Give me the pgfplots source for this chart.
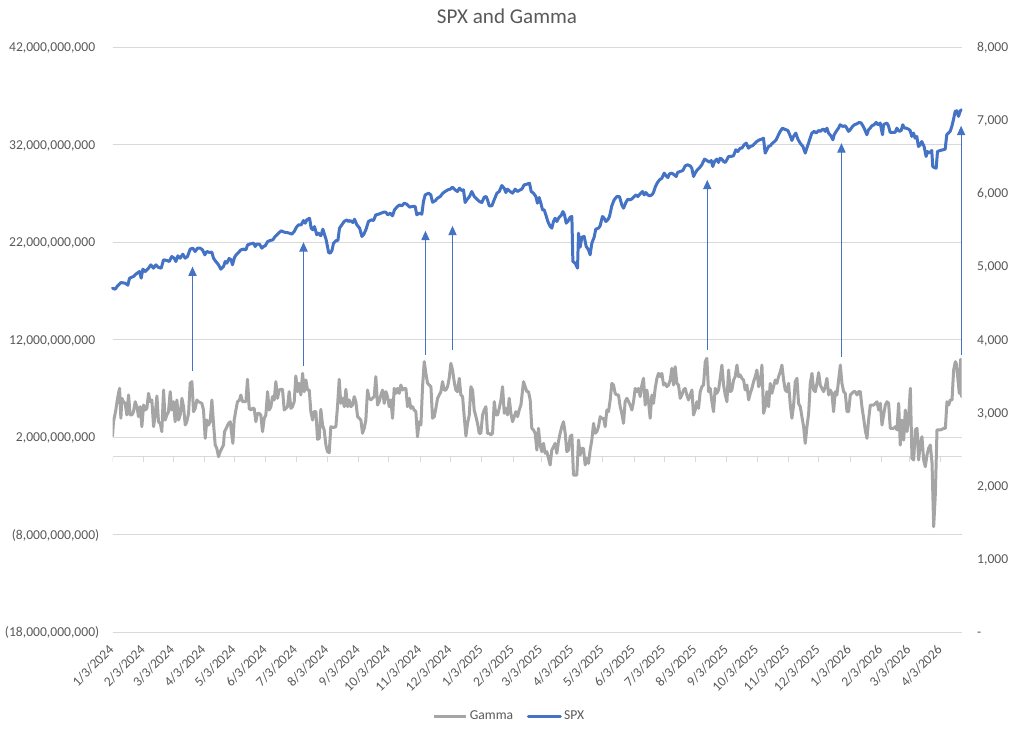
\documentclass[border=0pt]{standalone}
\usepackage{fontspec}
\setmainfont{Carlito}
\usepackage{pgfplots}
\pgfplotsset{compat=1.18}
\usepackage{pgfplotstable}
\usetikzlibrary{arrows.meta}
\definecolor{spxblue}{HTML}{4472C4}
\definecolor{gamgray}{HTML}{A5A5A5}
\definecolor{gridc}{HTML}{D9D9D9}
\definecolor{txt}{HTML}{595959}

% SPX (right axis); day = days since 1/3/2024
\pgfplotstableread{
day spx
0 4706
2.7 4692
5.0 4738
8.3 4783
12.6 4774
15.2 4747
16.9 4843
20.8 4866
23.5 4902
26.8 4934
28.4 4843
30.1 4966
32.4 4934
35.7 4980
38.0 5025
40.6 4980
43.0 5025
45.6 4989
48.3 4980
50.6 5094
53.9 5085
56.2 5071
58.8 5139
61.1 5116
62.8 5071
64.8 5148
67.1 5116
69.7 5171
72.0 5116
74.3 5139
77.0 5240
79.6 5253
81.9 5208
84.3 5253
86.9 5253
89.2 5230
91.5 5162
93.5 5208
96.2 5194
98.5 5199
100.1 5116
102.4 5071
105.1 5025
107.4 4966
110.0 5002
111.7 5071
113.3 5048
115.6 5112
117.6 5094
118.9 5025
120.9 5126
122.6 5162
124.9 5194
127.2 5230
129.9 5240
132.2 5230
133.9 5299
137.1 5313
139.8 5322
141.4 5276
143.1 5308
145.7 5308
148.0 5253
149.7 5276
151.3 5285
153.9 5345
156.2 5358
158.9 5367
161.2 5413
164.5 5458
167.2 5490
170.2 5472
172.8 5467
175.4 5458
177.8 5445
180.1 5481
182.1 5536
184.4 5572
187.0 5572
189.3 5631
191.0 5595
192.6 5640
195.3 5663
196.9 5527
198.6 5504
200.2 5549
202.5 5436
204.2 5458
206.5 5422
208.5 5513
210.2 5436
211.8 5367
214.2 5194
215.8 5185
217.5 5221
219.1 5322
221.7 5358
223.4 5358
225.0 5527
227.3 5572
229.6 5618
232.3 5640
233.9 5618
235.6 5631
238.2 5604
239.9 5649
242.2 5572
244.9 5527
247.2 5413
248.8 5436
251.1 5504
253.7 5618
256.4 5640
258.7 5631
261.0 5709
263.7 5718
266.3 5732
268.6 5745
270.9 5745
272.9 5709
275.2 5732
277.5 5695
279.5 5777
281.8 5814
284.5 5845
286.8 5832
289.1 5868
291.7 5855
294.4 5814
296.7 5823
300.0 5823
301.6 5709
304.0 5732
306.6 5718
308.2 5891
309.9 5982
313.2 6005
315.5 5982
317.2 5882
319.8 5900
322.1 5937
324.8 5959
327.4 6005
329.7 6028
332.4 6051
334.7 6060
337.0 6087
339.6 6051
341.9 6028
343.9 6073
346.2 6041
347.9 6051
349.5 5877
351.2 5914
353.8 5959
356.1 6028
358.5 5959
361.1 5923
363.8 5891
366.1 5877
368.4 5950
370.4 5959
371.7 5914
373.4 5832
376.0 5832
378.3 5914
381.0 6005
383.3 6028
385.9 6110
388.2 6073
389.9 6014
391.5 6060
394.2 6028
396.5 6005
399.1 6060
401.4 6028
404.1 6051
405.7 6060
408.0 6119
410.7 6128
413.3 6142
415.0 6028
417.3 6005
419.6 5959
421.2 5868
422.9 5946
424.6 5868
426.2 5777
427.9 5777
429.5 5709
431.5 5618
433.8 5549
435.4 5527
437.1 5618
438.7 5663
440.4 5618
442.7 5677
444.7 5700
446.4 5754
448.0 5709
449.7 5595
451.3 5618
453.6 5677
455.3 5686
456.3 5071
458.6 5048
460.9 4980
461.9 5458
463.5 5267
465.2 5404
467.5 5413
469.5 5276
471.8 5230
473.4 5162
475.1 5322
477.4 5404
479.0 5513
481.7 5527
483.3 5558
485.6 5686
487.3 5663
489.0 5618
490.9 5640
492.6 5686
494.9 5832
497.2 5914
499.9 5959
502.5 5959
504.8 5845
506.5 5800
508.8 5877
510.8 5923
513.1 5914
514.7 5927
517.0 5959
519.0 5982
520.7 5959
523.0 5996
525.3 6028
527.0 5982
528.6 6014
530.6 5982
532.3 5968
534.6 5982
536.2 6014
537.9 6087
540.2 6151
542.2 6187
544.5 6210
546.8 6279
548.8 6242
550.5 6219
552.1 6270
554.4 6279
556.7 6256
558.7 6233
560.0 6288
562.7 6302
565.3 6316
567.6 6379
569.9 6393
572.6 6379
574.2 6347
575.9 6233
577.5 6279
579.2 6316
581.5 6347
584.1 6393
586.8 6471
589.1 6452
591.7 6429
593.4 6452
595.0 6370
596.7 6439
599.0 6471
600.6 6425
602.3 6484
603.9 6471
605.6 6439
607.3 6425
608.9 6461
610.6 6507
612.9 6507
615.5 6516
617.8 6598
619.8 6575
622.1 6621
623.8 6621
626.1 6667
628.1 6690
630.4 6621
632.0 6644
634.3 6653
636.3 6680
638.6 6712
641.3 6735
643.6 6744
645.2 6758
646.9 6553
648.6 6598
650.2 6644
651.9 6653
654.2 6690
656.2 6712
657.8 6735
660.1 6804
661.8 6850
664.1 6895
665.8 6881
667.7 6872
669.4 6863
671.7 6790
673.4 6726
675.0 6781
677.3 6827
679.3 6744
681.6 6690
684.3 6644
686.6 6553
688.2 6621
689.9 6690
691.5 6758
693.2 6827
695.5 6850
697.5 6827
699.8 6863
701.5 6850
703.1 6872
704.8 6881
706.4 6850
708.1 6895
709.7 6827
712.0 6790
714.0 6735
715.3 6804
717.3 6850
719.6 6895
721.2 6941
723.9 6918
726.2 6927
727.8 6895
729.5 6850
731.1 6872
733.5 6918
735.4 6941
737.8 6954
740.1 6973
742.1 6964
743.7 6927
745.4 6881
747.7 6804
749.3 6872
751.0 6895
752.6 6927
754.9 6941
756.9 6973
758.6 6941
760.9 6964
763.2 6804
764.2 6941
765.8 6954
767.5 6964
769.1 6927
770.8 6836
773.4 6836
775.7 6836
777.4 6895
779.7 6850
781.7 6863
783.3 6941
785.0 6895
786.6 6895
788.9 6881
790.6 6863
792.2 6781
793.9 6827
795.5 6758
797.2 6781
798.8 6644
800.5 6667
802.1 6712
804.4 6644
806.4 6507
807.8 6575
809.7 6553
812.0 6589
813.0 6370
814.4 6357
816.4 6347
817.7 6575
820.3 6589
823.0 6598
825.3 6607
826.9 6804
828.6 6827
830.2 6850
831.9 6918
833.5 7009
835.2 7123
836.8 7132
838.5 7055
840.1 7123
841.1 7146
}\spxtable

% Gamma (left axis), in billions
\pgfplotstableread{
day gamma
0 2.13
1.0 3.60
3.3 4.80
5.0 6.00
7.0 7.02
8.3 3.95
9.3 6.00
10.9 5.65
12.6 5.48
14.2 4.29
15.9 6.34
17.5 4.29
19.2 4.29
20.8 4.63
22.5 5.65
24.2 5.14
25.8 4.12
27.5 5.14
29.1 3.09
30.8 5.31
32.4 4.80
34.1 4.97
35.7 6.51
37.4 5.65
39.0 5.83
40.7 3.09
42.3 4.29
44.0 6.24
45.6 3.60
47.3 3.43
48.9 2.58
50.6 6.85
52.2 3.77
53.9 4.29
55.5 4.63
57.2 6.68
58.8 4.80
60.5 5.65
62.1 3.60
63.8 5.83
65.5 3.77
67.1 4.29
68.8 6.00
70.4 5.14
72.1 3.26
73.7 3.60
75.4 4.46
77.0 7.53
78.7 7.71
80.3 4.63
82.0 4.97
83.6 5.83
85.3 5.65
88.6 5.48
90.2 4.80
91.9 1.89
93.5 3.77
95.2 3.26
96.8 3.60
98.5 5.83
100.1 3.43
101.8 1.21
103.4 0.87
105.1 0.01
106.7 0.53
108.4 0.87
110.0 1.21
111.0 2.58
112.7 2.92
115.0 3.43
116.7 3.60
119.3 1.38
120.6 3.77
122.3 4.80
123.9 5.65
125.9 5.83
127.2 6.34
128.9 5.65
130.5 5.65
132.2 5.65
133.8 7.95
135.5 4.97
137.1 4.80
138.8 4.97
140.4 4.97
142.1 3.60
143.7 4.46
145.4 4.46
147.0 4.29
148.7 2.58
150.4 3.95
152.0 4.29
153.7 6.68
155.3 4.80
157.0 5.14
158.6 6.17
160.3 5.83
161.9 7.71
163.6 6.00
165.2 6.85
166.9 6.92
168.5 6.92
170.2 4.80
171.8 4.97
173.5 5.14
175.1 6.68
176.8 4.97
178.4 5.14
180.1 5.65
181.7 8.29
183.4 6.68
185.0 7.53
186.7 6.34
188.4 8.56
190.0 6.68
191.7 7.88
193.3 6.85
195.0 6.85
196.6 4.63
198.3 3.77
199.9 4.63
201.6 4.63
203.2 1.79
204.9 1.89
206.5 4.87
208.2 3.26
209.8 2.75
211.5 1.21
213.1 0.53
214.8 0.42
216.4 3.09
218.1 3.02
219.7 3.02
221.4 3.09
223.0 5.14
224.7 7.95
226.3 5.48
228.0 6.00
229.7 5.14
231.3 6.92
233.0 5.14
234.6 5.83
236.3 5.14
237.9 5.31
239.6 6.17
241.2 5.65
242.9 4.12
244.5 3.95
246.2 3.77
247.8 2.41
249.5 2.92
251.1 3.77
252.8 6.85
254.4 6.00
256.1 5.83
257.7 6.00
259.4 6.17
261.0 8.22
262.7 5.31
264.3 5.65
266.0 6.34
267.7 6.85
269.3 5.48
271.0 6.68
272.6 6.17
274.3 5.14
275.9 5.83
277.6 3.95
279.2 7.02
280.9 6.51
282.5 7.02
284.2 6.51
285.8 7.36
287.5 6.85
289.1 7.02
290.8 7.02
292.4 5.14
294.1 6.00
295.7 4.97
297.4 5.14
299.0 4.80
300.7 4.63
302.3 2.06
304.0 3.60
305.7 3.26
307.3 7.19
309.0 9.76
310.6 8.56
312.3 7.53
313.9 7.36
315.6 7.19
317.2 3.95
318.9 4.12
320.5 4.97
322.2 6.00
323.8 6.34
325.5 6.68
327.1 7.71
328.8 6.85
330.4 6.85
332.1 7.19
333.7 8.05
335.4 9.59
337.0 8.90
338.7 7.71
340.3 6.85
342.0 6.68
343.7 8.05
345.3 6.34
347.0 6.17
348.6 4.12
350.3 2.13
351.9 3.43
353.6 4.29
355.2 7.19
356.9 6.85
358.5 4.80
360.2 4.12
361.8 3.43
363.5 2.41
365.1 2.41
366.8 4.29
368.4 4.80
370.1 5.14
371.7 2.41
373.4 2.41
375.0 2.24
376.7 2.41
378.4 5.65
380.0 4.29
381.7 4.29
383.3 4.97
385.0 5.83
386.6 7.19
388.3 4.46
389.9 4.97
391.6 4.29
393.2 6.00
394.9 4.46
396.5 3.60
398.2 4.12
399.8 4.63
401.5 4.12
403.1 4.80
404.8 5.31
407.4 7.71
410.7 6.68
412.3 6.68
414.0 5.83
415.6 2.92
417.3 2.75
418.9 2.41
420.6 0.69
422.2 2.92
423.9 1.21
425.5 0.53
427.2 1.38
428.8 0.36
430.5 0.53
432.1 -0.16
433.8 -0.84
435.4 0.69
437.1 1.04
438.7 1.38
440.4 0.36
442.0 1.55
443.7 2.41
445.3 3.09
447.0 3.60
448.7 2.41
450.3 0.53
452.0 0.69
453.6 2.06
455.3 2.24
456.9 -1.87
458.6 -1.87
460.2 -1.87
461.9 1.72
463.5 0.18
465.2 0.87
466.8 0.87
468.5 -0.84
470.1 -0.16
471.8 -0.67
473.4 0.69
475.1 1.72
476.8 3.43
478.4 2.41
480.1 2.58
481.7 3.09
483.4 4.12
485.0 3.95
486.7 3.95
488.3 3.09
490.0 4.80
491.6 4.63
493.3 5.83
494.9 7.53
496.6 7.36
498.2 6.51
499.9 6.34
501.5 6.34
503.2 5.14
504.8 4.46
506.5 3.43
508.1 5.65
509.8 6.00
511.5 5.65
513.1 5.31
514.8 4.80
516.4 5.65
518.1 7.02
519.7 6.68
521.4 7.02
523.0 6.17
524.7 7.36
526.3 8.05
528.0 5.31
529.6 6.85
531.3 5.65
532.9 3.95
534.6 6.34
536.2 5.48
537.9 7.02
539.6 8.05
541.2 8.56
542.9 8.22
544.5 8.56
546.2 7.36
547.8 7.53
549.5 7.19
551.1 7.36
552.8 7.88
554.4 9.07
556.1 7.36
557.7 9.24
559.4 7.53
561.0 7.36
562.7 6.00
564.3 6.34
566.0 6.85
567.6 7.02
569.3 6.34
570.9 5.83
572.6 6.34
574.3 6.85
575.9 4.29
577.6 4.80
579.2 5.65
580.9 4.97
582.5 6.68
584.2 7.19
585.8 7.36
587.5 9.76
589.1 10.10
590.8 6.68
592.4 7.02
594.1 5.65
595.7 4.63
597.4 7.02
599.0 6.51
600.7 6.85
602.3 8.05
604.0 9.41
605.7 7.36
607.3 6.34
609.0 5.65
610.6 8.90
612.3 6.68
613.9 6.85
615.6 7.88
617.2 8.22
618.9 9.41
620.5 8.22
622.2 8.39
623.8 8.05
625.5 7.88
627.1 6.85
628.8 7.36
630.5 5.83
632.1 6.51
633.8 7.02
635.4 7.71
637.1 8.22
638.7 8.90
640.4 7.19
642.0 7.53
643.7 9.41
645.3 4.46
647.0 5.14
648.6 6.68
650.3 5.14
651.9 7.53
653.6 6.51
655.2 7.19
656.9 7.88
658.5 7.53
660.2 8.22
661.9 8.73
663.5 9.41
665.2 7.88
666.8 6.85
668.5 6.68
670.1 7.53
671.8 5.31
673.4 3.95
675.1 5.31
676.7 7.71
678.4 8.05
680.0 5.48
681.7 5.14
683.3 4.12
685.0 3.09
686.6 1.38
688.3 3.09
690.0 4.46
691.6 7.53
693.3 8.56
694.9 6.85
696.6 6.68
698.2 7.53
699.9 8.63
701.5 7.36
703.2 7.02
704.8 6.68
706.5 7.19
708.1 8.05
709.8 6.34
711.4 6.85
713.1 6.51
714.7 4.63
716.4 6.68
718.0 6.34
719.7 7.88
721.4 9.41
723.0 7.53
724.7 6.68
726.3 6.51
728.0 4.63
729.6 4.63
731.3 6.34
732.9 6.51
734.6 6.68
736.2 6.68
737.9 6.34
739.5 6.68
741.2 6.68
742.8 5.14
744.5 3.95
746.1 2.75
747.8 1.89
749.4 3.77
751.1 5.31
752.7 5.31
754.4 5.31
756.1 5.48
757.7 5.65
759.4 4.80
761.0 5.48
762.7 3.26
764.3 4.29
766.0 5.31
767.6 5.65
769.3 5.48
770.9 2.92
772.6 2.92
774.2 2.92
775.9 3.09
777.5 2.75
779.2 5.48
780.8 1.21
782.5 3.77
784.2 1.72
785.8 4.80
787.5 2.58
789.1 4.12
790.8 7.02
792.4 -0.16
794.1 -0.33
795.7 2.75
797.4 2.92
799.0 -0.33
800.7 1.38
802.3 2.06
804.0 -0.33
805.6 -1.01
807.3 0.18
808.9 0.87
810.6 1.21
812.3 -0.67
813.9 -7.17
815.6 -3.75
817.2 2.75
818.9 2.75
820.5 2.75
822.2 2.82
823.8 2.92
825.5 2.92
827.1 5.65
828.8 5.31
830.4 5.83
832.1 5.83
833.7 8.90
835.4 9.76
836.5 9.50
839.3 6.51
840.6 10.00
841.5 6.17
}\gammatable

\pgfplotsset{
  common/.style={
    scale only axis, width=636.75pt, height=438.75pt,
    at={(84.375pt,75.525pt)}, anchor=south west,
    xmin=0, xmax=841.5,
    axis line style={draw=none},
    major tick style={draw=none},
    tick label style={font=\fontsize{10.2}{12}\selectfont, text=txt},
  }
}

\begin{document}
\begin{tikzpicture}
% Primary axis: Gamma
\begin{axis}[common,
  ymin=-18, ymax=42,
  ytick={-18,-8,2,12,22,32,42},
  yticklabels={{(18,000,000,000)},{(8,000,000,000)},{2,000,000,000\phantom{)}},{12,000,000,000\phantom{)}},{22,000,000,000\phantom{)}},{32,000,000,000\phantom{)}},{42,000,000,000\phantom{)}}},
  yticklabel style={anchor=base east, inner sep=0pt, xshift=-9.75pt, yshift=-3.2pt},
  ymajorgrids, grid style={gridc, line width=0.75pt},
  xtick={0,31,60,91,121,152,182,213,244,274,305,335,366,397,425,456,486,517,547,578,609,639,670,700,731,762,790,821},
  xticklabels={1/3/2024,2/3/2024,3/3/2024,4/3/2024,5/3/2024,6/3/2024,7/3/2024,8/3/2024,9/3/2024,10/3/2024,11/3/2024,12/3/2024,1/3/2025,2/3/2025,3/3/2025,4/3/2025,5/3/2025,6/3/2025,7/3/2025,8/3/2025,9/3/2025,10/3/2025,11/3/2025,12/3/2025,1/3/2026,2/3/2026,3/3/2026,4/3/2026},
  xticklabel style={xshift=1.6pt, yshift=-13.5pt, rotate=45, anchor=base east, inner sep=0pt},
]
\draw[gridc, line width=0.75pt] (axis cs:0,0) -- (axis cs:841.5,0);
\pgfplotsinvokeforeach{0,31,60,91,121,152,182,213,244,274,305,335,366,397,425,456,486,517,547,578,609,639,670,700,731,762,790,821}{
  \draw[gridc, line width=0.75pt] (axis cs:#1,0) -- ++(0pt,-4pt);
}
\addplot[gamgray, line width=2.25pt, line join=round, line cap=round] table[x=day, y=gamma] {\gammatable};
\end{axis}
% Secondary axis: SPX
\begin{axis}[common,
  clip=false,
  ymin=0, ymax=8000,
  ytick={0,1000,2000,3000,4000,5000,6000,7000,8000},
  yticklabels={{-},{1,000},{2,000},{3,000},{4,000},{5,000},{6,000},{7,000},{8,000}},
  yticklabel pos=right,
  yticklabel style={anchor=base west, inner sep=0pt, xshift=11.6pt, yshift=-3.2pt},
  xtick=\empty,
  legend style={at={(0.467,-0.1431)}, anchor=center, draw=none, fill=none,
    legend columns=2, font=\fontsize{10.2}{12}\selectfont, text=txt,
    inner sep=0pt, nodes={inner sep=0.8pt},
    /tikz/every even column/.append style={column sep=9.5pt},
    /tikz/every odd column/.append style={column sep=0.8pt}},
  legend image code/.code={\draw[#1] (0pt,0pt) -- (24pt,0pt);},
]
\addlegendimage{gamgray, line width=2.25pt}
\addlegendentry{Gamma}
\addplot[spxblue, line width=2.25pt, line join=round, line cap=round] table[x=day, y=spx] {\spxtable};
\addlegendentry{SPX}
% annotation arrows
\addplot[spxblue, line width=0.75pt, -{Triangle[length=7pt,width=6.2pt]}, forget plot] coordinates {(79.3,3575) (79.3,5001)};
\addplot[spxblue, line width=0.75pt, -{Triangle[length=7pt,width=6.2pt]}, forget plot] coordinates {(189.3,3647) (189.3,5335)};
\addplot[spxblue, line width=0.75pt, -{Triangle[length=7pt,width=6.2pt]}, forget plot] coordinates {(310.2,3793) (310.2,5490)};
\addplot[spxblue, line width=0.75pt, -{Triangle[length=7pt,width=6.2pt]}, forget plot] coordinates {(337.0,3862) (337.0,5558)};
\addplot[spxblue, line width=0.75pt, -{Triangle[length=7pt,width=6.2pt]}, forget plot] coordinates {(589.5,3862) (589.5,6187)};
\addplot[spxblue, line width=0.75pt, -{Triangle[length=7pt,width=6.2pt]}, forget plot] coordinates {(722.5,3766) (722.5,6689)};
\addplot[spxblue, line width=0.75pt, -{Triangle[length=7pt,width=6.2pt]}, forget plot] coordinates {(841.1,3798) (841.1,6926)};
\end{axis}
\node[anchor=base, font=\fontsize{15.8}{19}\selectfont, text=txt] at (380.25pt,532.1pt) {SPX and Gamma};
\pgfresetboundingbox
\path[use as bounding box] (0pt,0pt) rectangle (765pt,549.75pt);
\end{tikzpicture}
\end{document}
